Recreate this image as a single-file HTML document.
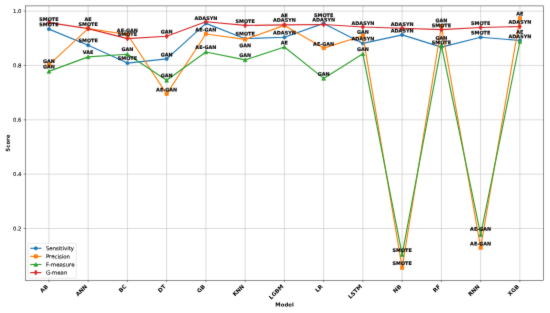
<!DOCTYPE html>
<html><head><meta charset="utf-8"><title>Model scores</title>
<style>
html,body{margin:0;padding:0;background:#fff;overflow:hidden}
svg{display:block;font-family:"DejaVu Sans","Liberation Sans",sans-serif}
</style></head><body>
<svg width="550" height="313" viewBox="0 0 550 313">
<defs><filter id="soft" x="0" y="0" width="550" height="313" filterUnits="userSpaceOnUse" color-interpolation-filters="sRGB"><feConvolveMatrix order="3" kernelMatrix="0.012 0.07 0.012 0.07 0.672 0.07 0.012 0.07 0.012" divisor="1" edgeMode="duplicate" preserveAlpha="true"/></filter></defs>
<g filter="url(#soft)">
<rect width="550" height="313" fill="#fff"/>
<line x1="48.90" y1="5.9" x2="48.90" y2="280.4" stroke="#c2c2c2" stroke-width="0.6"/>
<line x1="88.15" y1="5.9" x2="88.15" y2="280.4" stroke="#c2c2c2" stroke-width="0.6"/>
<line x1="127.40" y1="5.9" x2="127.40" y2="280.4" stroke="#c2c2c2" stroke-width="0.6"/>
<line x1="166.65" y1="5.9" x2="166.65" y2="280.4" stroke="#c2c2c2" stroke-width="0.6"/>
<line x1="205.90" y1="5.9" x2="205.90" y2="280.4" stroke="#c2c2c2" stroke-width="0.6"/>
<line x1="245.15" y1="5.9" x2="245.15" y2="280.4" stroke="#c2c2c2" stroke-width="0.6"/>
<line x1="284.40" y1="5.9" x2="284.40" y2="280.4" stroke="#c2c2c2" stroke-width="0.6"/>
<line x1="323.65" y1="5.9" x2="323.65" y2="280.4" stroke="#c2c2c2" stroke-width="0.6"/>
<line x1="362.90" y1="5.9" x2="362.90" y2="280.4" stroke="#c2c2c2" stroke-width="0.6"/>
<line x1="402.15" y1="5.9" x2="402.15" y2="280.4" stroke="#c2c2c2" stroke-width="0.6"/>
<line x1="441.40" y1="5.9" x2="441.40" y2="280.4" stroke="#c2c2c2" stroke-width="0.6"/>
<line x1="480.65" y1="5.9" x2="480.65" y2="280.4" stroke="#c2c2c2" stroke-width="0.6"/>
<line x1="519.90" y1="5.9" x2="519.90" y2="280.4" stroke="#c2c2c2" stroke-width="0.6"/>
<line x1="25.4" y1="228.50" x2="543.7" y2="228.50" stroke="#c2c2c2" stroke-width="0.6"/>
<line x1="25.4" y1="174.15" x2="543.7" y2="174.15" stroke="#c2c2c2" stroke-width="0.6"/>
<line x1="25.4" y1="119.80" x2="543.7" y2="119.80" stroke="#c2c2c2" stroke-width="0.6"/>
<line x1="25.4" y1="65.45" x2="543.7" y2="65.45" stroke="#c2c2c2" stroke-width="0.6"/>
<line x1="25.4" y1="11.10" x2="543.7" y2="11.10" stroke="#c2c2c2" stroke-width="0.6"/>
<clipPath id="ax"><rect x="25.4" y="5.9" width="518.3000000000001" height="274.5"/></clipPath>
<g clip-path="url(#ax)">
<polyline points="48.90,29.10 88.15,45.20 127.40,63.10 166.65,58.90 205.90,23.40 245.15,38.70 284.40,37.30 323.65,23.40 362.90,43.40 402.15,34.90 441.40,47.10 480.65,37.30 519.90,40.50" fill="none" stroke="#1f77b4" stroke-width="1.15" stroke-linejoin="round"/>
<circle cx="48.90" cy="29.10" r="1.65" fill="#1f77b4" stroke="#1f77b4" stroke-width="0.65" stroke-linejoin="miter"/>
<circle cx="88.15" cy="45.20" r="1.65" fill="#1f77b4" stroke="#1f77b4" stroke-width="0.65" stroke-linejoin="miter"/>
<circle cx="127.40" cy="63.10" r="1.65" fill="#1f77b4" stroke="#1f77b4" stroke-width="0.65" stroke-linejoin="miter"/>
<circle cx="166.65" cy="58.90" r="1.65" fill="#1f77b4" stroke="#1f77b4" stroke-width="0.65" stroke-linejoin="miter"/>
<circle cx="205.90" cy="23.40" r="1.65" fill="#1f77b4" stroke="#1f77b4" stroke-width="0.65" stroke-linejoin="miter"/>
<circle cx="245.15" cy="38.70" r="1.65" fill="#1f77b4" stroke="#1f77b4" stroke-width="0.65" stroke-linejoin="miter"/>
<circle cx="284.40" cy="37.30" r="1.65" fill="#1f77b4" stroke="#1f77b4" stroke-width="0.65" stroke-linejoin="miter"/>
<circle cx="323.65" cy="23.40" r="1.65" fill="#1f77b4" stroke="#1f77b4" stroke-width="0.65" stroke-linejoin="miter"/>
<circle cx="362.90" cy="43.40" r="1.65" fill="#1f77b4" stroke="#1f77b4" stroke-width="0.65" stroke-linejoin="miter"/>
<circle cx="402.15" cy="34.90" r="1.65" fill="#1f77b4" stroke="#1f77b4" stroke-width="0.65" stroke-linejoin="miter"/>
<circle cx="441.40" cy="47.10" r="1.65" fill="#1f77b4" stroke="#1f77b4" stroke-width="0.65" stroke-linejoin="miter"/>
<circle cx="480.65" cy="37.30" r="1.65" fill="#1f77b4" stroke="#1f77b4" stroke-width="0.65" stroke-linejoin="miter"/>
<circle cx="519.90" cy="40.50" r="1.65" fill="#1f77b4" stroke="#1f77b4" stroke-width="0.65" stroke-linejoin="miter"/>
<polyline points="48.90,64.90 88.15,28.60 127.40,34.50 166.65,93.90 205.90,34.00 245.15,39.40 284.40,25.40 323.65,48.10 362.90,35.70 402.15,267.70 441.40,26.00 480.65,247.70 519.90,18.30" fill="none" stroke="#ff7f0e" stroke-width="1.15" stroke-linejoin="round"/>
<rect x="47.25" y="63.25" width="3.3" height="3.3" fill="#ff7f0e" stroke="#ff7f0e" stroke-width="0.65" stroke-linejoin="miter"/>
<rect x="86.50" y="26.95" width="3.3" height="3.3" fill="#ff7f0e" stroke="#ff7f0e" stroke-width="0.65" stroke-linejoin="miter"/>
<rect x="125.75" y="32.85" width="3.3" height="3.3" fill="#ff7f0e" stroke="#ff7f0e" stroke-width="0.65" stroke-linejoin="miter"/>
<rect x="165.00" y="92.25" width="3.3" height="3.3" fill="#ff7f0e" stroke="#ff7f0e" stroke-width="0.65" stroke-linejoin="miter"/>
<rect x="204.25" y="32.35" width="3.3" height="3.3" fill="#ff7f0e" stroke="#ff7f0e" stroke-width="0.65" stroke-linejoin="miter"/>
<rect x="243.50" y="37.75" width="3.3" height="3.3" fill="#ff7f0e" stroke="#ff7f0e" stroke-width="0.65" stroke-linejoin="miter"/>
<rect x="282.75" y="23.75" width="3.3" height="3.3" fill="#ff7f0e" stroke="#ff7f0e" stroke-width="0.65" stroke-linejoin="miter"/>
<rect x="322.00" y="46.45" width="3.3" height="3.3" fill="#ff7f0e" stroke="#ff7f0e" stroke-width="0.65" stroke-linejoin="miter"/>
<rect x="361.25" y="34.05" width="3.3" height="3.3" fill="#ff7f0e" stroke="#ff7f0e" stroke-width="0.65" stroke-linejoin="miter"/>
<rect x="400.50" y="266.05" width="3.3" height="3.3" fill="#ff7f0e" stroke="#ff7f0e" stroke-width="0.65" stroke-linejoin="miter"/>
<rect x="439.75" y="24.35" width="3.3" height="3.3" fill="#ff7f0e" stroke="#ff7f0e" stroke-width="0.65" stroke-linejoin="miter"/>
<rect x="479.00" y="246.05" width="3.3" height="3.3" fill="#ff7f0e" stroke="#ff7f0e" stroke-width="0.65" stroke-linejoin="miter"/>
<rect x="518.25" y="16.65" width="3.3" height="3.3" fill="#ff7f0e" stroke="#ff7f0e" stroke-width="0.65" stroke-linejoin="miter"/>
<polyline points="48.90,71.40 88.15,56.90 127.40,54.20 166.65,80.30 205.90,52.00 245.15,59.90 284.40,47.00 323.65,78.40 362.90,53.80 402.15,254.60 441.40,45.40 480.65,234.60 519.90,41.50" fill="none" stroke="#2ca02c" stroke-width="1.15" stroke-linejoin="round"/>
<polygon points="48.90,69.55 47.05,73.25 50.75,73.25" fill="#2ca02c" stroke="#2ca02c" stroke-width="0.65" stroke-linejoin="miter"/>
<polygon points="88.15,55.05 86.30,58.75 90.00,58.75" fill="#2ca02c" stroke="#2ca02c" stroke-width="0.65" stroke-linejoin="miter"/>
<polygon points="127.40,52.35 125.55,56.05 129.25,56.05" fill="#2ca02c" stroke="#2ca02c" stroke-width="0.65" stroke-linejoin="miter"/>
<polygon points="166.65,78.45 164.80,82.15 168.50,82.15" fill="#2ca02c" stroke="#2ca02c" stroke-width="0.65" stroke-linejoin="miter"/>
<polygon points="205.90,50.15 204.05,53.85 207.75,53.85" fill="#2ca02c" stroke="#2ca02c" stroke-width="0.65" stroke-linejoin="miter"/>
<polygon points="245.15,58.05 243.30,61.75 247.00,61.75" fill="#2ca02c" stroke="#2ca02c" stroke-width="0.65" stroke-linejoin="miter"/>
<polygon points="284.40,45.15 282.55,48.85 286.25,48.85" fill="#2ca02c" stroke="#2ca02c" stroke-width="0.65" stroke-linejoin="miter"/>
<polygon points="323.65,76.55 321.80,80.25 325.50,80.25" fill="#2ca02c" stroke="#2ca02c" stroke-width="0.65" stroke-linejoin="miter"/>
<polygon points="362.90,51.95 361.05,55.65 364.75,55.65" fill="#2ca02c" stroke="#2ca02c" stroke-width="0.65" stroke-linejoin="miter"/>
<polygon points="402.15,252.75 400.30,256.45 404.00,256.45" fill="#2ca02c" stroke="#2ca02c" stroke-width="0.65" stroke-linejoin="miter"/>
<polygon points="441.40,43.55 439.55,47.25 443.25,47.25" fill="#2ca02c" stroke="#2ca02c" stroke-width="0.65" stroke-linejoin="miter"/>
<polygon points="480.65,232.75 478.80,236.45 482.50,236.45" fill="#2ca02c" stroke="#2ca02c" stroke-width="0.65" stroke-linejoin="miter"/>
<polygon points="519.90,39.65 518.05,43.35 521.75,43.35" fill="#2ca02c" stroke="#2ca02c" stroke-width="0.65" stroke-linejoin="miter"/>
<polyline points="48.90,22.60 88.15,28.60 127.40,38.60 166.65,36.20 205.90,21.80 245.15,25.40 284.40,24.90 323.65,24.50 362.90,27.00 402.15,28.20 441.40,29.60 480.65,27.50 519.90,26.50" fill="none" stroke="#d62728" stroke-width="1.15" stroke-linejoin="round"/>
<polygon points="48.90,20.08 47.34,22.60 48.90,25.12 50.46,22.60" fill="#d62728" stroke="#d62728" stroke-width="0.65" stroke-linejoin="miter"/>
<polygon points="88.15,26.08 86.59,28.60 88.15,31.12 89.71,28.60" fill="#d62728" stroke="#d62728" stroke-width="0.65" stroke-linejoin="miter"/>
<polygon points="127.40,36.08 125.84,38.60 127.40,41.12 128.96,38.60" fill="#d62728" stroke="#d62728" stroke-width="0.65" stroke-linejoin="miter"/>
<polygon points="166.65,33.68 165.09,36.20 166.65,38.72 168.21,36.20" fill="#d62728" stroke="#d62728" stroke-width="0.65" stroke-linejoin="miter"/>
<polygon points="205.90,19.28 204.34,21.80 205.90,24.32 207.46,21.80" fill="#d62728" stroke="#d62728" stroke-width="0.65" stroke-linejoin="miter"/>
<polygon points="245.15,22.88 243.59,25.40 245.15,27.92 246.71,25.40" fill="#d62728" stroke="#d62728" stroke-width="0.65" stroke-linejoin="miter"/>
<polygon points="284.40,22.38 282.84,24.90 284.40,27.42 285.96,24.90" fill="#d62728" stroke="#d62728" stroke-width="0.65" stroke-linejoin="miter"/>
<polygon points="323.65,21.98 322.09,24.50 323.65,27.02 325.21,24.50" fill="#d62728" stroke="#d62728" stroke-width="0.65" stroke-linejoin="miter"/>
<polygon points="362.90,24.48 361.34,27.00 362.90,29.52 364.46,27.00" fill="#d62728" stroke="#d62728" stroke-width="0.65" stroke-linejoin="miter"/>
<polygon points="402.15,25.68 400.59,28.20 402.15,30.72 403.71,28.20" fill="#d62728" stroke="#d62728" stroke-width="0.65" stroke-linejoin="miter"/>
<polygon points="441.40,27.08 439.84,29.60 441.40,32.12 442.96,29.60" fill="#d62728" stroke="#d62728" stroke-width="0.65" stroke-linejoin="miter"/>
<polygon points="480.65,24.98 479.09,27.50 480.65,30.02 482.21,27.50" fill="#d62728" stroke="#d62728" stroke-width="0.65" stroke-linejoin="miter"/>
<polygon points="519.90,23.98 518.34,26.50 519.90,29.02 521.46,26.50" fill="#d62728" stroke="#d62728" stroke-width="0.65" stroke-linejoin="miter"/>
</g>
<rect x="25.4" y="5.9" width="518.3000000000001" height="274.5" fill="none" stroke="#333333" stroke-width="0.55"/>
<line x1="48.90" y1="280.4" x2="48.90" y2="282.2" stroke="#333333" stroke-width="0.55"/>
<line x1="88.15" y1="280.4" x2="88.15" y2="282.2" stroke="#333333" stroke-width="0.55"/>
<line x1="127.40" y1="280.4" x2="127.40" y2="282.2" stroke="#333333" stroke-width="0.55"/>
<line x1="166.65" y1="280.4" x2="166.65" y2="282.2" stroke="#333333" stroke-width="0.55"/>
<line x1="205.90" y1="280.4" x2="205.90" y2="282.2" stroke="#333333" stroke-width="0.55"/>
<line x1="245.15" y1="280.4" x2="245.15" y2="282.2" stroke="#333333" stroke-width="0.55"/>
<line x1="284.40" y1="280.4" x2="284.40" y2="282.2" stroke="#333333" stroke-width="0.55"/>
<line x1="323.65" y1="280.4" x2="323.65" y2="282.2" stroke="#333333" stroke-width="0.55"/>
<line x1="362.90" y1="280.4" x2="362.90" y2="282.2" stroke="#333333" stroke-width="0.55"/>
<line x1="402.15" y1="280.4" x2="402.15" y2="282.2" stroke="#333333" stroke-width="0.55"/>
<line x1="441.40" y1="280.4" x2="441.40" y2="282.2" stroke="#333333" stroke-width="0.55"/>
<line x1="480.65" y1="280.4" x2="480.65" y2="282.2" stroke="#333333" stroke-width="0.55"/>
<line x1="519.90" y1="280.4" x2="519.90" y2="282.2" stroke="#333333" stroke-width="0.55"/>
<line x1="23.599999999999998" y1="228.50" x2="25.4" y2="228.50" stroke="#333333" stroke-width="0.55"/>
<text transform="translate(21.50,230.43) rotate(0.05)" font-size="5.3" text-anchor="end" fill="#000" stroke="#000" stroke-width="0.08">0.2</text>
<line x1="23.599999999999998" y1="174.15" x2="25.4" y2="174.15" stroke="#333333" stroke-width="0.55"/>
<text transform="translate(21.50,176.08) rotate(0.05)" font-size="5.3" text-anchor="end" fill="#000" stroke="#000" stroke-width="0.08">0.4</text>
<line x1="23.599999999999998" y1="119.80" x2="25.4" y2="119.80" stroke="#333333" stroke-width="0.55"/>
<text transform="translate(21.50,121.73) rotate(0.05)" font-size="5.3" text-anchor="end" fill="#000" stroke="#000" stroke-width="0.08">0.6</text>
<line x1="23.599999999999998" y1="65.45" x2="25.4" y2="65.45" stroke="#333333" stroke-width="0.55"/>
<text transform="translate(21.50,67.38) rotate(0.05)" font-size="5.3" text-anchor="end" fill="#000" stroke="#000" stroke-width="0.08">0.8</text>
<line x1="23.599999999999998" y1="11.10" x2="25.4" y2="11.10" stroke="#333333" stroke-width="0.55"/>
<text transform="translate(21.50,13.03) rotate(0.05)" font-size="5.3" text-anchor="end" fill="#000" stroke="#000" stroke-width="0.08">1.0</text>
<text transform="translate(48.40,286.90) rotate(-45)" font-size="5.6" font-weight="bold" text-anchor="end" fill="#000">AB</text>
<text transform="translate(87.65,286.90) rotate(-45)" font-size="5.6" font-weight="bold" text-anchor="end" fill="#000">ANN</text>
<text transform="translate(126.90,286.90) rotate(-45)" font-size="5.6" font-weight="bold" text-anchor="end" fill="#000">BC</text>
<text transform="translate(166.15,286.90) rotate(-45)" font-size="5.6" font-weight="bold" text-anchor="end" fill="#000">DT</text>
<text transform="translate(205.40,286.90) rotate(-45)" font-size="5.6" font-weight="bold" text-anchor="end" fill="#000">GB</text>
<text transform="translate(244.65,286.90) rotate(-45)" font-size="5.6" font-weight="bold" text-anchor="end" fill="#000">KNN</text>
<text transform="translate(283.90,286.90) rotate(-45)" font-size="5.6" font-weight="bold" text-anchor="end" fill="#000">LGBM</text>
<text transform="translate(323.15,286.90) rotate(-45)" font-size="5.6" font-weight="bold" text-anchor="end" fill="#000">LR</text>
<text transform="translate(362.40,286.90) rotate(-45)" font-size="5.6" font-weight="bold" text-anchor="end" fill="#000">LSTM</text>
<text transform="translate(401.65,286.90) rotate(-45)" font-size="5.6" font-weight="bold" text-anchor="end" fill="#000">NB</text>
<text transform="translate(440.90,286.90) rotate(-45)" font-size="5.6" font-weight="bold" text-anchor="end" fill="#000">RF</text>
<text transform="translate(480.15,286.90) rotate(-45)" font-size="5.6" font-weight="bold" text-anchor="end" fill="#000">RNN</text>
<text transform="translate(519.40,286.90) rotate(-45)" font-size="5.6" font-weight="bold" text-anchor="end" fill="#000">XGB</text>
<text transform="translate(402.15,265.09) rotate(0.05)" font-size="4.9" font-weight="bold" text-anchor="middle" fill="#000" stroke="#000" stroke-width="0.14">SMOTE</text>
<text transform="translate(402.15,251.89) rotate(0.05)" font-size="4.9" font-weight="bold" text-anchor="middle" fill="#000" stroke="#000" stroke-width="0.14">SMOTE</text>
<text transform="translate(480.65,245.39) rotate(0.05)" font-size="4.9" font-weight="bold" text-anchor="middle" fill="#000" stroke="#000" stroke-width="0.14">AE-GAN</text>
<text transform="translate(480.65,230.69) rotate(0.05)" font-size="4.9" font-weight="bold" text-anchor="middle" fill="#000" stroke="#000" stroke-width="0.14">AE-GAN</text>
<text transform="translate(166.65,91.39) rotate(0.05)" font-size="4.9" font-weight="bold" text-anchor="middle" fill="#000" stroke="#000" stroke-width="0.14">AE-GAN</text>
<text transform="translate(166.65,77.19) rotate(0.05)" font-size="4.9" font-weight="bold" text-anchor="middle" fill="#000" stroke="#000" stroke-width="0.14">GAN</text>
<text transform="translate(323.65,75.79) rotate(0.05)" font-size="4.9" font-weight="bold" text-anchor="middle" fill="#000" stroke="#000" stroke-width="0.14">GAN</text>
<text transform="translate(48.90,68.49) rotate(0.05)" font-size="4.9" font-weight="bold" text-anchor="middle" fill="#000" stroke="#000" stroke-width="0.14">GAN</text>
<text transform="translate(48.90,63.09) rotate(0.05)" font-size="4.9" font-weight="bold" text-anchor="middle" fill="#000" stroke="#000" stroke-width="0.14">GAN</text>
<text transform="translate(127.40,59.99) rotate(0.05)" font-size="4.9" font-weight="bold" text-anchor="middle" fill="#000" stroke="#000" stroke-width="0.14">SMOTE</text>
<text transform="translate(245.15,57.09) rotate(0.05)" font-size="4.9" font-weight="bold" text-anchor="middle" fill="#000" stroke="#000" stroke-width="0.14">GAN</text>
<text transform="translate(166.65,56.39) rotate(0.05)" font-size="4.9" font-weight="bold" text-anchor="middle" fill="#000" stroke="#000" stroke-width="0.14">GAN</text>
<text transform="translate(88.15,54.09) rotate(0.05)" font-size="4.9" font-weight="bold" text-anchor="middle" fill="#000" stroke="#000" stroke-width="0.14">VAE</text>
<text transform="translate(127.40,51.09) rotate(0.05)" font-size="4.9" font-weight="bold" text-anchor="middle" fill="#000" stroke="#000" stroke-width="0.14">GAN</text>
<text transform="translate(362.90,50.99) rotate(0.05)" font-size="4.9" font-weight="bold" text-anchor="middle" fill="#000" stroke="#000" stroke-width="0.14">GAN</text>
<text transform="translate(205.90,48.89) rotate(0.05)" font-size="4.9" font-weight="bold" text-anchor="middle" fill="#000" stroke="#000" stroke-width="0.14">AE-GAN</text>
<text transform="translate(245.15,47.29) rotate(0.05)" font-size="4.9" font-weight="bold" text-anchor="middle" fill="#000" stroke="#000" stroke-width="0.14">GAN</text>
<text transform="translate(323.65,45.69) rotate(0.05)" font-size="4.9" font-weight="bold" text-anchor="middle" fill="#000" stroke="#000" stroke-width="0.14">AE-GAN</text>
<text transform="translate(284.40,44.39) rotate(0.05)" font-size="4.9" font-weight="bold" text-anchor="middle" fill="#000" stroke="#000" stroke-width="0.14">AE</text>
<text transform="translate(441.40,44.29) rotate(0.05)" font-size="4.9" font-weight="bold" text-anchor="middle" fill="#000" stroke="#000" stroke-width="0.14">SMOTE</text>
<text transform="translate(88.15,42.19) rotate(0.05)" font-size="4.9" font-weight="bold" text-anchor="middle" fill="#000" stroke="#000" stroke-width="0.14">SMOTE</text>
<text transform="translate(362.90,40.59) rotate(0.05)" font-size="4.9" font-weight="bold" text-anchor="middle" fill="#000" stroke="#000" stroke-width="0.14">ADASYN</text>
<text transform="translate(441.40,39.69) rotate(0.05)" font-size="4.9" font-weight="bold" text-anchor="middle" fill="#000" stroke="#000" stroke-width="0.14">GAN</text>
<text transform="translate(519.90,38.29) rotate(0.05)" font-size="4.9" font-weight="bold" text-anchor="middle" fill="#000" stroke="#000" stroke-width="0.14">ADASYN</text>
<text transform="translate(127.40,35.99) rotate(0.05)" font-size="4.9" font-weight="bold" text-anchor="middle" fill="#000" stroke="#000" stroke-width="0.14">SMOTE</text>
<text transform="translate(245.15,35.49) rotate(0.05)" font-size="4.9" font-weight="bold" text-anchor="middle" fill="#000" stroke="#000" stroke-width="0.14">SMOTE</text>
<text transform="translate(284.40,34.49) rotate(0.05)" font-size="4.9" font-weight="bold" text-anchor="middle" fill="#000" stroke="#000" stroke-width="0.14">ADASYN</text>
<text transform="translate(480.65,34.49) rotate(0.05)" font-size="4.9" font-weight="bold" text-anchor="middle" fill="#000" stroke="#000" stroke-width="0.14">SMOTE</text>
<text transform="translate(519.90,33.79) rotate(0.05)" font-size="4.9" font-weight="bold" text-anchor="middle" fill="#000" stroke="#000" stroke-width="0.14">AE</text>
<text transform="translate(362.90,33.69) rotate(0.05)" font-size="4.9" font-weight="bold" text-anchor="middle" fill="#000" stroke="#000" stroke-width="0.14">GAN</text>
<text transform="translate(166.65,33.59) rotate(0.05)" font-size="4.9" font-weight="bold" text-anchor="middle" fill="#000" stroke="#000" stroke-width="0.14">GAN</text>
<text transform="translate(402.15,32.39) rotate(0.05)" font-size="4.9" font-weight="bold" text-anchor="middle" fill="#000" stroke="#000" stroke-width="0.14">ADASYN</text>
<text transform="translate(127.40,32.29) rotate(0.05)" font-size="4.9" font-weight="bold" text-anchor="middle" fill="#000" stroke="#000" stroke-width="0.14">AE-GAN</text>
<text transform="translate(205.90,31.59) rotate(0.05)" font-size="4.9" font-weight="bold" text-anchor="middle" fill="#000" stroke="#000" stroke-width="0.14">AE-GAN</text>
<text transform="translate(441.40,27.19) rotate(0.05)" font-size="4.9" font-weight="bold" text-anchor="middle" fill="#000" stroke="#000" stroke-width="0.14">SMOTE</text>
<text transform="translate(48.90,26.29) rotate(0.05)" font-size="4.9" font-weight="bold" text-anchor="middle" fill="#000" stroke="#000" stroke-width="0.14">SMOTE</text>
<text transform="translate(88.15,25.99) rotate(0.05)" font-size="4.9" font-weight="bold" text-anchor="middle" fill="#000" stroke="#000" stroke-width="0.14">SMOTE</text>
<text transform="translate(402.15,25.99) rotate(0.05)" font-size="4.9" font-weight="bold" text-anchor="middle" fill="#000" stroke="#000" stroke-width="0.14">ADASYN</text>
<text transform="translate(362.90,24.99) rotate(0.05)" font-size="4.9" font-weight="bold" text-anchor="middle" fill="#000" stroke="#000" stroke-width="0.14">ADASYN</text>
<text transform="translate(480.65,24.99) rotate(0.05)" font-size="4.9" font-weight="bold" text-anchor="middle" fill="#000" stroke="#000" stroke-width="0.14">SMOTE</text>
<text transform="translate(519.90,23.79) rotate(0.05)" font-size="4.9" font-weight="bold" text-anchor="middle" fill="#000" stroke="#000" stroke-width="0.14">ADASYN</text>
<text transform="translate(245.15,23.09) rotate(0.05)" font-size="4.9" font-weight="bold" text-anchor="middle" fill="#000" stroke="#000" stroke-width="0.14">SMOTE</text>
<text transform="translate(441.40,22.29) rotate(0.05)" font-size="4.9" font-weight="bold" text-anchor="middle" fill="#000" stroke="#000" stroke-width="0.14">GAN</text>
<text transform="translate(284.40,21.79) rotate(0.05)" font-size="4.9" font-weight="bold" text-anchor="middle" fill="#000" stroke="#000" stroke-width="0.14">ADASYN</text>
<text transform="translate(323.65,21.39) rotate(0.05)" font-size="4.9" font-weight="bold" text-anchor="middle" fill="#000" stroke="#000" stroke-width="0.14">ADASYN</text>
<text transform="translate(88.15,21.09) rotate(0.05)" font-size="4.9" font-weight="bold" text-anchor="middle" fill="#000" stroke="#000" stroke-width="0.14">AE</text>
<text transform="translate(48.90,21.09) rotate(0.05)" font-size="4.9" font-weight="bold" text-anchor="middle" fill="#000" stroke="#000" stroke-width="0.14">SMOTE</text>
<text transform="translate(205.90,19.99) rotate(0.05)" font-size="4.9" font-weight="bold" text-anchor="middle" fill="#000" stroke="#000" stroke-width="0.14">ADASYN</text>
<text transform="translate(284.40,17.29) rotate(0.05)" font-size="4.9" font-weight="bold" text-anchor="middle" fill="#000" stroke="#000" stroke-width="0.14">AE</text>
<text transform="translate(323.65,16.89) rotate(0.05)" font-size="4.9" font-weight="bold" text-anchor="middle" fill="#000" stroke="#000" stroke-width="0.14">SMOTE</text>
<text transform="translate(519.90,15.49) rotate(0.05)" font-size="4.9" font-weight="bold" text-anchor="middle" fill="#000" stroke="#000" stroke-width="0.14">AE</text>
<text transform="translate(284.55,306.5) rotate(0.05)" font-size="5.4" font-weight="bold" text-anchor="middle" fill="#000">Model</text>
<text transform="translate(9.7,143.15) rotate(-89.95)" font-size="5.4" font-weight="bold" text-anchor="middle" fill="#000">Score</text>
<rect x="28.1" y="243.3" width="48.199999999999996" height="34.89999999999998" rx="1" ry="1" fill="#fff" fill-opacity="0.8" stroke="#d4d4d4" stroke-width="0.5"/>
<line x1="30.2" y1="248.30" x2="41.4" y2="248.30" stroke="#1f77b4" stroke-width="1.15"/>
<circle cx="35.80" cy="248.30" r="1.65" fill="#1f77b4" stroke="#1f77b4" stroke-width="0.65" stroke-linejoin="miter"/>
<text transform="translate(45.9,250.27) rotate(0.05)" font-size="5.4" fill="#000" stroke="#000" stroke-width="0.08">Sensitivity</text>
<line x1="30.2" y1="256.40" x2="41.4" y2="256.40" stroke="#ff7f0e" stroke-width="1.15"/>
<rect x="34.15" y="254.75" width="3.3" height="3.3" fill="#ff7f0e" stroke="#ff7f0e" stroke-width="0.65" stroke-linejoin="miter"/>
<text transform="translate(45.9,258.37) rotate(0.05)" font-size="5.4" fill="#000" stroke="#000" stroke-width="0.08">Precision</text>
<line x1="30.2" y1="264.50" x2="41.4" y2="264.50" stroke="#2ca02c" stroke-width="1.15"/>
<polygon points="35.80,262.65 33.95,266.35 37.65,266.35" fill="#2ca02c" stroke="#2ca02c" stroke-width="0.65" stroke-linejoin="miter"/>
<text transform="translate(45.9,266.47) rotate(0.05)" font-size="5.4" fill="#000" stroke="#000" stroke-width="0.08">F-measure</text>
<line x1="30.2" y1="272.60" x2="41.4" y2="272.60" stroke="#d62728" stroke-width="1.15"/>
<polygon points="35.80,270.08 34.24,272.60 35.80,275.12 37.36,272.60" fill="#d62728" stroke="#d62728" stroke-width="0.65" stroke-linejoin="miter"/>
<text transform="translate(45.9,274.57) rotate(0.05)" font-size="5.4" fill="#000" stroke="#000" stroke-width="0.08">G-mean</text>
</g>
</svg>
</body></html>
